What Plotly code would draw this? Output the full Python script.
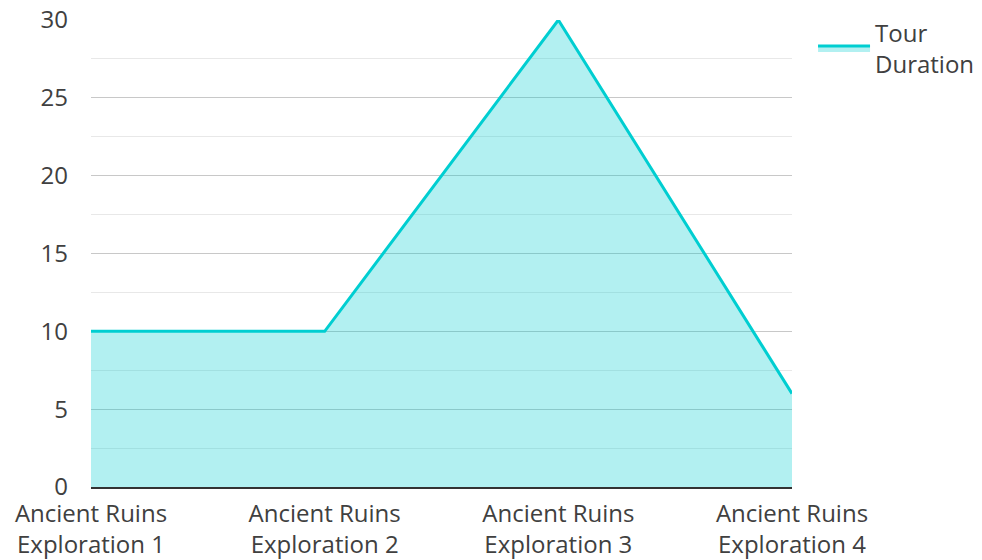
import plotly.graph_objects as go

categories = ["Ancient Ruins<br>Exploration 1", "Ancient Ruins<br>Exploration 2",
              "Ancient Ruins<br>Exploration 3", "Ancient Ruins<br>Exploration 4"]
tour_duration = [10, 10, 30, 6]
y_ticks = [0, 5, 10, 15, 20, 25, 30]

fig = go.Figure()
fig.add_trace(go.Scatter(
    x=categories, y=tour_duration, mode="lines", name="Tour<br>Duration",
    line=dict(color="#00CED1", width=3), fill="tozeroy",
    fillcolor="rgba(0,206,209,0.3)",
))
fig.update_layout(
    width=982, height=560,
    margin=dict(l=91, r=190, t=20, b=73, autoexpand=False),
    paper_bgcolor="white", plot_bgcolor="white",
    font=dict(family="Open Sans", size=24, color="#404040"),
    legend=dict(x=1.03, y=1.021, xanchor="left", yanchor="top",
                font=dict(size=24), itemwidth=52),
    showlegend=True,
)
fig.update_xaxes(type="category", range=[0, 3], showgrid=False, automargin=False,
                 showline=True, linecolor="#333333", linewidth=2,
                 ticks="", ticklabelstandoff=4)
fig.update_yaxes(range=[0, 30], tickvals=y_ticks, showgrid=True, automargin=False,
                 gridcolor="#c8c8c8", gridwidth=1, zeroline=False,
                 ticks="", ticklabelstandoff=22,
                 minor=dict(showgrid=True, dtick=2.5, gridcolor="#e8e8e8"))
fig.write_html("out.html", config={"displayModeBar": False},
               post_script="document.body.style.margin='0';")
